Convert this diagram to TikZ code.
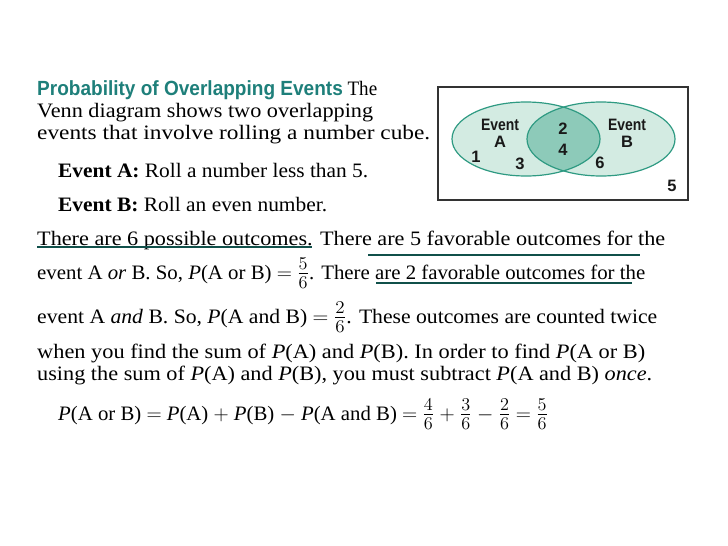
\documentclass[tikz,border=0pt]{standalone}
\usepackage{fontspec}
\usepackage{graphicx}
\setmainfont{Liberation Serif}
\setsansfont{Liberation Sans}
\definecolor{teal1}{HTML}{1E7F7A}
\definecolor{vstroke}{HTML}{2E9A82}
\definecolor{vfill}{HTML}{D3EBE2}
\definecolor{vover}{HTML}{8DCAB9}
\definecolor{uline}{HTML}{10504A}
\newcommand{\tl}[4]{\node[anchor=base west,inner sep=0] (#1) at #2 {\resizebox{#3pt}{\height}{\strut #4}};}
\newcommand{\fr}[2]{\raisebox{-1pt}{\scalebox{1.25}{$\frac{#1}{#2}$}}}
\begin{document}
\begin{tikzpicture}[x=1pt,y=-1pt,font=\fontsize{20.5}{22}\selectfont,
  vt/.style={font=\sffamily\bfseries\fontsize{16.5}{17}\selectfont,text=black!90,align=center,inner sep=0},
  ul/.style={uline,line width=2pt}]
\useasboundingbox (0,0) rectangle (728,546);
\node[draw=black!80,line width=1.3pt,minimum width=250pt,minimum height=113pt,inner sep=0] (box) at (563,143.5) {};
\begin{scope}
\fill[vfill] (526,139) ellipse [x radius=74,y radius=37];
\fill[vfill] (601,139) ellipse [x radius=74,y radius=37];
\clip (526,139) ellipse [x radius=74,y radius=37];
\fill[vover] (601,139) ellipse [x radius=74,y radius=37];
\end{scope}
\draw[vstroke,line width=1.2pt] (526,139) ellipse [x radius=74,y radius=37];
\draw[vstroke,line width=1.2pt] (601,139) ellipse [x radius=74,y radius=37];
\node[vt] (ea) at (500,133) {\resizebox{38pt}{\height}{Event}\\A};
\node[vt] (eb) at (627,133) {\resizebox{38pt}{\height}{Event}\\B};
\node[vt] (n1) at (476,157) {1};
\node[vt] (n3) at (520,164) {3};
\node[vt] (n2) at (563,129) {2};
\node[vt] (n4) at (563,150) {4};
\node[vt] (n6) at (600,163) {6};
\node[vt] (n5) at (672,186) {5};
\tl{t1}{(37,95)}{340}{{\sffamily\bfseries\color{teal1}Probability of Overlapping Events} The}
\tl{t2}{(37,117)}{336}{Venn diagram shows two overlapping}
\tl{t3}{(37,139)}{393}{events that involve rolling a number cube.}
\tl{t4}{(58,177)}{310}{\textbf{Event A:} Roll a number less than 5.}
\tl{t5}{(58,211)}{269}{\textbf{Event B:} Roll an even number.}
\tl{t6}{(37,245)}{628}{There are 6 possible outcomes. There are 5 favorable outcomes for the}
\tl{t7}{(37,279)}{608}{event A \emph{or} B. So, \emph{P}(A or B) $=$ \fr{5}{6}. There are 2 favorable outcomes for the}
\tl{t8}{(37,323)}{620}{event A \emph{and} B. So, \emph{P}(A and B) $=$ \fr{2}{6}. These outcomes are counted twice}
\tl{t9}{(37,358)}{608}{when you find the sum of \emph{P}(A) and \emph{P}(B). In order to find \emph{P}(A or B)}
\tl{t10}{(37,380)}{615}{using the sum of \emph{P}(A) and \emph{P}(B), you must subtract \emph{P}(A and B) \emph{once}.}
\tl{t11}{(58,420)}{490}{\emph{P}(A or B) $=$ \emph{P}(A) $+$ \emph{P}(B) $-$ \emph{P}(A and B) $=$ \fr{4}{6} $+$ \fr{3}{6} $-$ \fr{2}{6} $=$ \fr{5}{6}}
\draw[ul] (37,247) -- (312,247);
\draw[ul] (368,255) -- (640,255);
\draw[ul] (376,283) -- (632,283);
\end{tikzpicture}
\end{document}
